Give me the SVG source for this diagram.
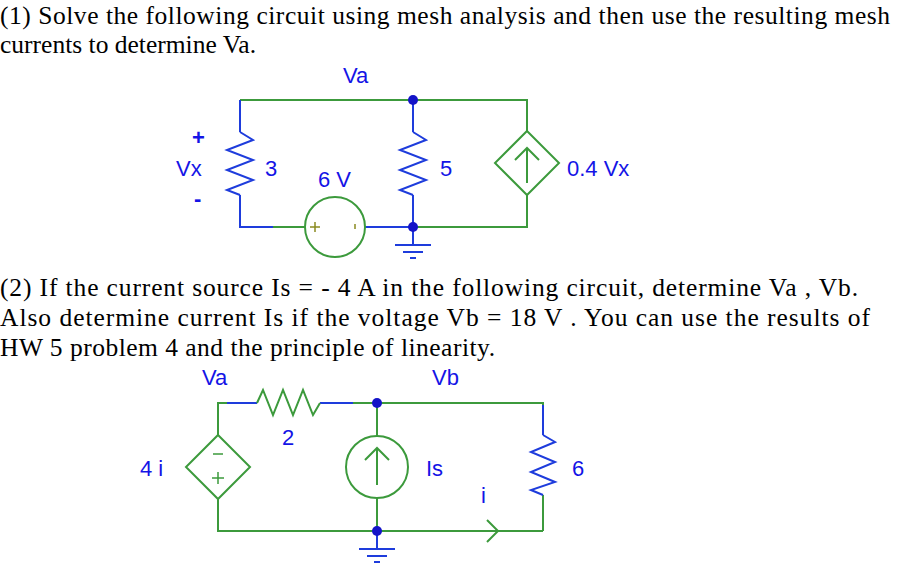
<svg xmlns="http://www.w3.org/2000/svg" width="921" height="572" viewBox="0 0 921 572" xml:space="preserve">
<style>
.t{font-family:"Liberation Serif","Times New Roman",serif;font-size:25.5px;fill:#000}
.l{font-family:"Liberation Sans",Arial,sans-serif;font-size:22px;fill:#1414e6}
.g{stroke:#3c9a3c;stroke-width:2;fill:none}
.b{stroke:#1e3cdc;stroke-width:2;fill:none}
.d{fill:#1414c8}
</style>
<rect width="921" height="572" fill="#fff"/>
<text class="t" x="0" y="24" textLength="890" lengthAdjust="spacing">(1)  Solve the following circuit using mesh analysis and then use the resulting mesh</text>
<text class="t" x="0" y="53" textLength="256" lengthAdjust="spacing">currents to determine   Va.</text>
<text class="t" x="0" y="296" textLength="858" lengthAdjust="spacing">(2)  If the current source  Is =  - 4 A  in the following circuit, determine Va , Vb.</text>
<text class="t" x="0" y="326" textLength="870" lengthAdjust="spacing">Also determine current  Is  if the voltage  Vb =  18 V .  You can use the results of</text>
<text class="t" x="0" y="356" textLength="495" lengthAdjust="spacing">HW 5 problem 4 and the principle of linearity.</text>
<g id="connectors">
<path class="g" d="M240,100H527V131M527,195V227H413M273,227H305"/>
<path class="b" d="M240,100V132M240,195V227H273M365,227H413M413,100V132M413,195V227V245"/>
<path class="g" d="M218,435V403H227M353,403H543V405M377,403V436M377,498V531M218,499V531H543M543,531V495"/>
<path class="b" d="M227,403H257M320,403H353M543,405V435M377,531V549"/>
<path class="g" d="M487,520L498,531L487,542"/>
</g>
<g id="R3"><path class="b" d="M240,132L253,140L227,150L253,160L227,170L253,180L227,190L240,195"/><text class="l" x="265" y="176">3</text></g>
<g id="R5"><path class="b" d="M413,132L426,140L400,150L426,160L400,170L426,180L400,190L413,195"/><text class="l" x="440" y="176">5</text></g>
<g id="V6"><circle class="g" cx="335" cy="227" r="30"/><path d="M310,227h10M315,222v10M355,224v5" stroke="#8a8a20" stroke-width="1.5"/><text class="l" x="318" y="187">6 V</text></g>
<g id="Dep1"><path class="g" d="M527,131L559,163L527,195L495,163Z"/><path class="g" d="M527,183V148M515,160L527,148L539,160"/><text class="l" x="567" y="176">0.4 Vx</text></g>
<g id="nodeVa1"><circle class="d" cx="413" cy="100" r="5"/><text class="l" x="343" y="83">Va</text></g>
<g id="gnd1"><circle class="d" cx="413" cy="227" r="5"/><path class="b" d="M395,245h36M403,252h20M410,258h6"/></g>
<g id="vx"><text class="l" x="192" y="145" font-weight="bold">+</text><text class="l" x="176" y="176">Vx</text><text class="l" x="194" y="206" font-weight="bold">-</text></g>
<g id="R2"><path class="g" d="M257,403L263,390L273,415L283,390L293,415L303,390L313,415L320,403"/><text class="l" x="282" y="445">2</text></g>
<g id="Dep2"><path class="g" d="M218,435L250,467L218,499L186,467Z"/><path d="M213,454h10M212,478h12M218,472v12" stroke="#3c9a3c" stroke-width="1.5"/><text class="l" x="140" y="476">4 i</text></g>
<g id="Is"><circle class="g" cx="377" cy="467" r="31"/><path class="g" d="M377,485V448M365,460L377,448L389,460"/><text class="l" x="426" y="476">Is</text></g>
<g id="R6"><path class="b" d="M543,435L555,442L531,452L555,462L531,472L555,482L531,490L543,495"/><text class="l" x="572" y="476">6</text></g>
<g id="labels2"><text class="l" x="202" y="385">Va</text><text class="l" x="432" y="385">Vb</text><text class="l" x="481" y="503">i</text></g>
<g id="nodes2"><circle class="d" cx="377" cy="403" r="5"/><circle class="d" cx="377" cy="531" r="5"/><path class="b" d="M359,549h36M367,556h20M374,562h6"/></g>
</svg>
